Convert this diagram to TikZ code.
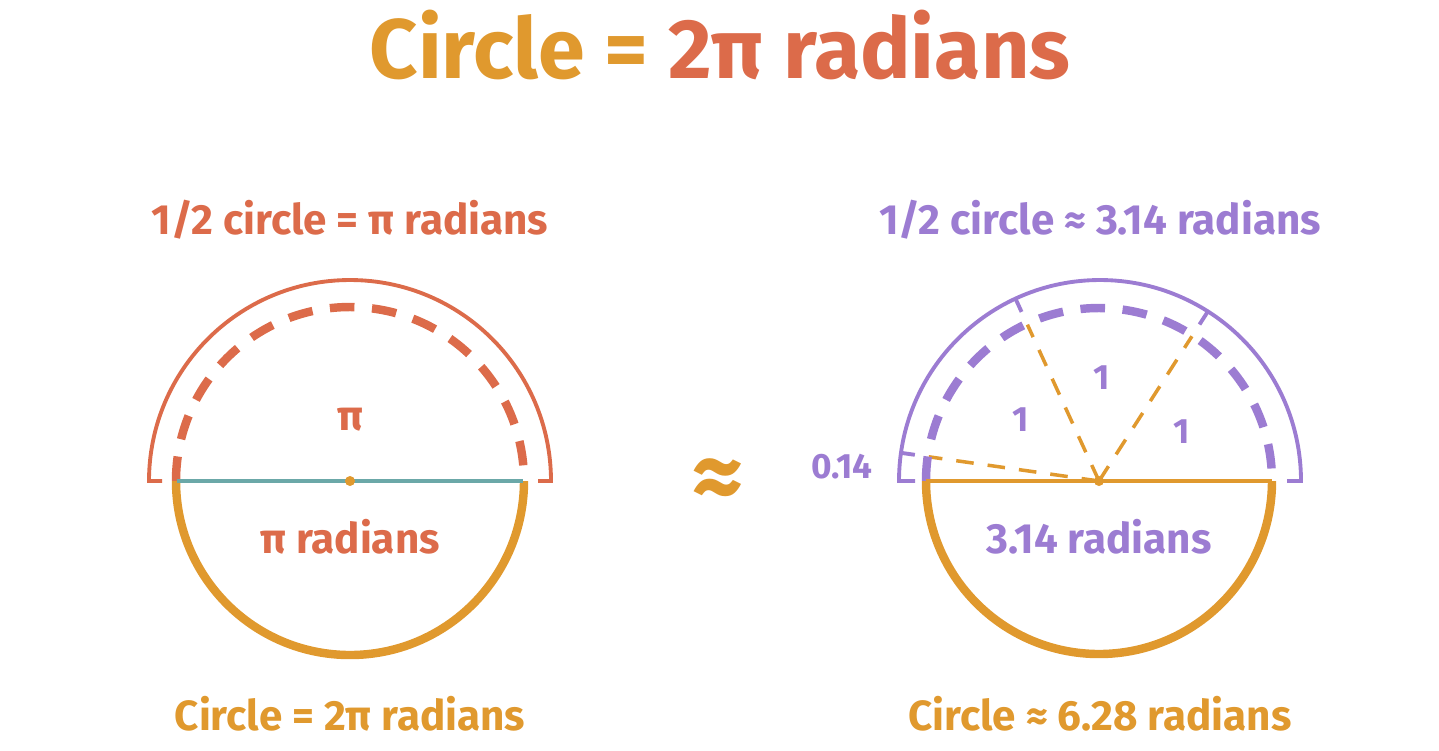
\documentclass[tikz,border=0pt]{standalone}
\usetikzlibrary{calc}
\usepackage{fontspec}
\setmainfont{Fira Sans}
\definecolor{org}{HTML}{E0992E}
\definecolor{red}{HTML}{DC6B4A}
\definecolor{pur}{HTML}{9C7CD2}
\definecolor{teal}{HTML}{6BA8A8}
\begin{document}
\begin{tikzpicture}[x=0.01cm,y=-0.01cm,
  lab/.style={font=\fontsize{12}{14}\selectfont\bfseries},
  sm/.style={font=\fontsize{10}{12}\selectfont\bfseries},
  thin arc/.style={line width=1.1pt},
  thick arc/.style={line width=2.4pt},
  rad/.style={org,line width=1pt,dash pattern=on 5pt off 4pt}]
\useasboundingbox (0,0) rectangle (1439,750);
\node (title) at (720,45) {\fontsize{24}{30}\selectfont\bfseries\textcolor{org}{Circle =} \textcolor{red}{2π radians}};
% left
\coordinate (L) at (350,481);
\node[lab,red] (l1) at (350,220) {1/2 circle = π radians};
\node[lab,org] (l2) at (350,714) {Circle = 2π radians};
\draw[red,thin arc] (162,481) -- (149,481) arc[start angle=180,end angle=360,radius=201] -- (538,481);
\draw[red,thick arc,dash pattern=on 7pt off 5pt] (176,481) arc[start angle=180,end angle=360,radius=174];
\draw[org,thick arc] (176,481) arc[start angle=180,end angle=0,radius=174];
\draw[teal,line width=1.1pt] (177,481) -- (523,481);
\fill[org] (L) circle (5);
\node[lab,red] (pi) at (350,420) {π};
\node[lab,red] (pr) at (350,537) {π radians};
% approx
\node[org] (ap) at (718,484) {\fontsize{28}{30}\selectfont\bfseries ≈};
% right
\coordinate (R) at (1099,481);
\node[lab,pur] (r1) at (1100,220) {1/2 circle ≈ 3.14 radians};
\node[lab,org] (r2) at (1100,714) {Circle ≈ 6.28 radians};
\draw[pur,thin arc] (915,481) -- (899,481) arc[start angle=180,end angle=360,radius=201] -- (1287,481);
\foreach \a in {57.3,114.6,171.9}{
  \draw[pur,thin arc] ($(R)+(-\a:201)$) -- ($(R)+(-\a:186)$);
  \draw[rad] (R) -- ($(R)+(-\a:172)$);
}
\draw[pur,thick arc,dash pattern=on 7pt off 5pt] (926,481) arc[start angle=180,end angle=360,radius=173];
\draw[org,thick arc] (926,481) arc[start angle=180,end angle=0,radius=173];
\draw[org,line width=1.1pt] (926,481) -- (1272,481);
\fill[org] (R) circle (5);
\node[sm,pur] (o1) at (1021,420) {1};
\node[sm,pur] (o2) at (1102,378) {1};
\node[sm,pur] (o3) at (1182,432) {1};
\node[sm,pur] (o4) at (842,467) {0.14};
\node[lab,pur] (tr) at (1099,537) {3.14 radians};
\end{tikzpicture}
\end{document}
